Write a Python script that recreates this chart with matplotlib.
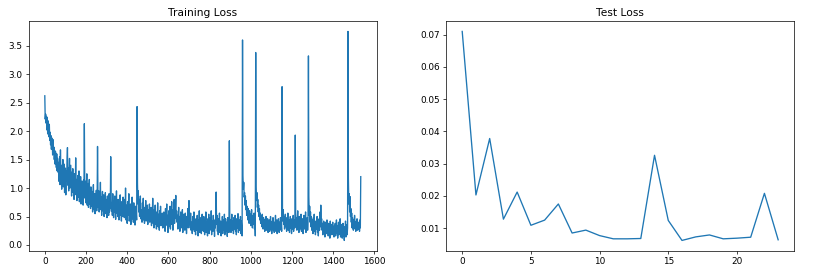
import numpy as np
import matplotlib
matplotlib.use("Agg")
import matplotlib.pyplot as plt

# ---- data (train loss logged every 2 steps, 64 steps per epoch) ----
train_step = 2
train_loss = [
    # epoch 0
    2.62, 2.21, 2.30, 2.14, 2.26, 2.02, 2.24, 1.95, 2.18, 2.06, 1.90, 2.12, 1.84, 1.98, 1.76, 1.92,
    1.68, 1.88, 1.80, 1.58, 1.85, 1.62, 1.72, 1.50, 1.66, 1.42, 1.64, 1.55, 1.36, 1.60, 1.30, 1.52,
    # epoch 1
    1.28, 1.45, 1.12, 1.38, 1.55, 1.06, 1.67, 1.22, 1.40, 0.98, 1.32, 1.18, 1.50, 1.02, 1.26, 1.42,
    0.92, 1.20, 1.35, 0.88, 1.30, 1.12, 1.48, 1.71, 1.05, 1.36, 0.95, 1.24, 1.52, 1.00, 1.18, 1.40,
    # epoch 2
    1.10, 0.86, 1.28, 1.02, 1.34, 0.92, 1.18, 0.80, 1.25, 1.05, 0.96, 1.53, 0.88, 1.15, 0.78, 1.08,
    1.22, 0.84, 0.98, 1.30, 0.76, 1.06, 0.90, 1.20, 0.72, 0.95, 1.12, 0.82, 1.00, 0.70, 1.14, 0.88,
    # epoch 3
    2.13, 1.05, 0.82, 1.12, 0.74, 0.98, 1.25, 0.70, 0.92, 1.08, 0.66, 0.88, 1.15, 0.72, 0.95, 0.64,
    1.02, 0.80, 0.68, 0.94, 0.58, 0.86, 1.06, 0.62, 0.78, 0.90, 0.55, 0.84, 0.70, 0.96, 0.60, 0.76,
    # epoch 4
    1.73, 0.88, 0.66, 0.95, 0.58, 0.82, 0.72, 1.10, 0.62, 0.85, 0.52, 0.78, 0.94, 0.60, 0.70, 0.88,
    0.50, 0.76, 0.64, 0.92, 0.55, 0.80, 0.68, 0.48, 0.86, 0.62, 0.74, 0.52, 0.90, 0.58, 0.70, 0.64,
    # epoch 5
    1.55, 0.82, 0.60, 0.74, 0.52, 0.90, 0.66, 0.48, 0.78, 0.58, 0.86, 0.62, 0.45, 0.72, 0.95, 0.56,
    0.68, 0.50, 0.80, 0.64, 0.44, 0.70, 0.58, 0.88, 0.52, 0.66, 0.42, 0.76, 0.60, 0.50, 0.84, 0.56,
    # epoch 6
    0.62, 0.48, 0.80, 0.55, 1.00, 0.44, 0.70, 0.58, 0.38, 0.76, 0.52, 0.64, 0.90, 0.42, 0.60, 0.50,
    0.72, 0.36, 0.66, 0.54, 0.84, 0.46, 0.58, 0.40, 0.74, 0.52, 0.62, 0.35, 0.68, 0.48, 0.56, 0.44,
    # epoch 7
    2.43, 1.08, 0.72, 0.95, 0.58, 0.80, 0.50, 0.68, 0.86, 0.46, 0.62, 0.54, 0.40, 0.74, 0.56, 0.82,
    0.44, 0.60, 0.38, 0.66, 0.52, 0.78, 0.42, 0.58, 0.48, 0.70, 0.36, 0.62, 0.50, 0.44, 0.72, 0.40,
    # epoch 8
    0.56, 0.42, 0.66, 0.34, 0.58, 0.48, 0.82, 0.38, 0.52, 0.30, 0.62, 0.44, 0.70, 0.36, 0.50, 0.28,
    0.58, 0.46, 0.74, 0.32, 0.54, 0.40, 0.26, 0.60, 0.44, 0.68, 0.34, 0.50, 0.38, 0.56, 0.30, 0.46,
    # epoch 9
    0.42, 0.58, 0.30, 0.50, 0.24, 0.64, 0.38, 0.46, 0.72, 0.34, 0.52, 0.22, 0.44, 0.60, 0.32, 0.48,
    0.68, 0.28, 0.54, 0.40, 0.76, 0.36, 0.50, 0.26, 0.62, 0.44, 0.80, 0.38, 0.58, 0.66, 0.87, 0.46,
    # epoch 10
    0.60, 0.40, 0.52, 0.28, 0.46, 0.66, 0.34, 0.50, 0.24, 0.42, 0.58, 0.30, 0.48, 0.36, 0.62, 0.22,
    0.44, 0.54, 0.32, 0.40, 0.26, 0.56, 0.38, 0.46, 0.20, 0.50, 0.34, 0.64, 0.30, 0.44, 0.78, 0.36,
    # epoch 11
    0.48, 0.30, 0.56, 0.26, 0.40, 0.34, 0.20, 0.50, 0.36, 0.28, 0.58, 0.24, 0.42, 0.32, 0.18, 0.46,
    0.38, 0.26, 0.52, 0.30, 0.16, 0.44, 0.34, 0.60, 0.22, 0.40, 0.28, 0.48, 0.20, 0.36, 0.54, 0.26,
    # epoch 12
    0.38, 0.24, 0.50, 0.30, 0.18, 0.44, 0.34, 0.58, 0.22, 0.40, 0.28, 0.16, 0.46, 0.32, 0.54, 0.20,
    0.36, 0.26, 0.48, 0.30, 0.60, 0.18, 0.42, 0.34, 0.24, 0.52, 0.28, 0.38, 0.15, 0.44, 0.30, 0.56,
    # epoch 13
    0.93, 0.36, 0.52, 0.24, 0.40, 0.18, 0.46, 0.30, 0.56, 0.22, 0.34, 0.42, 0.16, 0.38, 0.28, 0.50,
    0.20, 0.44, 0.32, 0.26, 0.54, 0.18, 0.36, 0.46, 0.24, 0.40, 0.30, 0.15, 0.48, 0.28, 0.38, 0.22,
    # epoch 14
    1.83, 0.50, 0.30, 0.44, 0.22, 0.38, 0.54, 0.26, 0.42, 0.32, 0.20, 0.48, 0.36, 0.28, 0.52, 0.24,
    0.40, 0.18, 0.46, 0.34, 0.30, 0.55, 0.22, 0.38, 0.44, 0.26, 0.34, 0.50, 0.20, 0.42, 0.30, 0.16,
    # epoch 15
    3.60, 1.22, 0.98, 1.10, 0.84, 0.92, 0.70, 0.86, 0.62, 0.78, 0.52, 0.68, 0.58, 0.44, 0.64, 0.50,
    0.38, 0.60, 0.46, 0.54, 0.34, 0.48, 0.62, 0.40, 0.30, 0.52, 0.42, 0.36, 0.56, 0.28, 0.44, 0.16,
    # epoch 16
    3.38, 1.02, 0.78, 0.92, 0.66, 0.80, 0.58, 0.70, 0.50, 0.64, 0.44, 0.56, 0.38, 0.52, 0.46, 0.32,
    0.54, 0.40, 0.28, 0.48, 0.36, 0.44, 0.24, 0.42, 0.34, 0.50, 0.26, 0.38, 0.30, 0.46, 0.22, 0.36,
    # epoch 17
    0.30, 0.44, 0.24, 0.38, 0.50, 0.28, 0.34, 0.20, 0.42, 0.32, 0.48, 0.26, 0.36, 0.22, 0.40, 0.30,
    0.52, 0.24, 0.34, 0.44, 0.20, 0.38, 0.28, 0.46, 0.32, 0.22, 0.40, 0.26, 0.48, 0.30, 0.36, 0.24,
    # epoch 18
    2.78, 0.58, 0.42, 0.62, 0.36, 0.50, 0.28, 0.46, 0.54, 0.32, 0.40, 0.24, 0.48, 0.34, 0.56, 0.26,
    0.38, 0.44, 0.22, 0.36, 0.50, 0.30, 0.42, 0.20, 0.46, 0.34, 0.28, 0.52, 0.24, 0.38, 0.44, 0.30,
    # epoch 19
    1.93, 0.56, 0.34, 0.48, 0.26, 0.42, 0.60, 0.30, 0.38, 0.22, 0.50, 0.36, 0.28, 0.44, 0.54, 0.24,
    0.40, 0.32, 0.46, 0.20, 0.36, 0.52, 0.28, 0.42, 0.34, 0.58, 0.22, 0.38, 0.30, 0.48, 0.26, 0.40,
    # epoch 20
    3.32, 0.85, 0.52, 0.68, 0.40, 0.58, 0.32, 0.50, 0.26, 0.44, 0.36, 0.20, 0.48, 0.30, 0.54, 0.24,
    0.38, 0.18, 0.42, 0.28, 0.34, 0.50, 0.22, 0.40, 0.16, 0.36, 0.46, 0.26, 0.58, 0.32, 0.70, 0.38,
    # epoch 21
    0.46, 0.26, 0.38, 0.18, 0.32, 0.42, 0.22, 0.34, 0.14, 0.40, 0.28, 0.36, 0.20, 0.44, 0.24, 0.30,
    0.16, 0.38, 0.26, 0.34, 0.12, 0.42, 0.28, 0.22, 0.36, 0.18, 0.32, 0.40, 0.20, 0.30, 0.14, 0.34,
    # epoch 22
    0.26, 0.38, 0.16, 0.30, 0.44, 0.20, 0.34, 0.12, 0.28, 0.40, 0.18, 0.32, 0.24, 0.46, 0.14, 0.30,
    0.22, 0.36, 0.12, 0.28, 0.38, 0.16, 0.24, 0.08, 0.32, 0.20, 0.42, 0.14, 0.26, 0.36, 0.18, 0.30,
    # epoch 23
    3.75, 1.17, 0.72, 0.90, 0.58, 0.85, 0.50, 0.64, 0.40, 0.56, 0.30, 0.48, 0.36, 0.26, 0.44, 0.32,
    0.52, 0.28, 0.38, 0.24, 0.42, 0.30, 0.46, 0.26, 0.34, 0.40, 0.28, 0.36, 0.24, 0.44, 0.30, 1.20,
]

test_loss = [0.0710, 0.0203, 0.0378, 0.0128, 0.0212, 0.0109, 0.0125, 0.0175,
             0.0085, 0.0094, 0.0077, 0.0067, 0.0067, 0.0068, 0.0326, 0.0124,
             0.0062, 0.0073, 0.0079, 0.0067, 0.0069, 0.0072, 0.0208, 0.0064]

# ---- plot ----
dpi = 63.5
fig, (ax1, ax2) = plt.subplots(1, 2, figsize=(817 / dpi, 276 / dpi), dpi=dpi)
plt.subplots_adjust(left=0.0355, right=0.9718, top=0.924, bottom=0.091, wspace=0.201)

steps = np.arange(len(train_loss)) * train_step
ax1.plot(steps, train_loss)
ax1.set_title("Training Loss")

ax2.plot(np.arange(len(test_loss)), test_loss)
ax2.set_title("Test Loss")

fig.savefig("out.png", dpi=dpi)
